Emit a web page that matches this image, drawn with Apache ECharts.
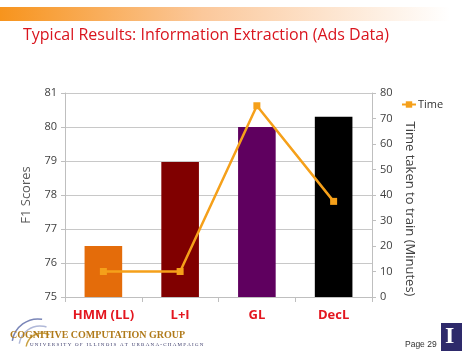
<!DOCTYPE html>
<html><head><meta charset="utf-8">
<script src="https://cdn.jsdelivr.net/npm/echarts@6/dist/echarts.min.js"></script>
<style>html,body{margin:0;padding:0;background:#fff}#c{width:474px;height:355px}</style>
</head><body><div id="c"></div>
<script>
const categories = ["HMM (LL)", "L+I", "GL", "DecL"];
const f1Scores = [76.5, 78.97, 80.0, 80.3];
const trainTime = [10, 10, 75, 37.5];
const barColors = ["#E46C0A", "#800000", "#5F005F", "#000000"];
const leftTicks = {min: 75, max: 81, interval: 1};
const rightTicks = {min: 0, max: 80, interval: 10};

const chart = echarts.init(document.getElementById('c'), null, {renderer: 'canvas'});
chart.setOption({
  animation: false,
  backgroundColor: '#fff',
  textStyle: {fontFamily: 'Open Sans'},
  graphic: [
    {type: 'rect', shape: {x: 0, y: 7, width: 450, height: 14}, silent: true,
     style: {fill: new echarts.graphic.LinearGradient(0, 0, 1, 0, [
       {offset: 0, color: '#F7941D'}, {offset: 0.45, color: '#FBC89B'}, {offset: 1, color: 'rgba(255,255,255,1)'}])}},
    {type: 'text', left: 23, top: 27, style: {text: 'Typical Results: Information Extraction (Ads Data)', fill: '#D9151E', font: '16px "Open Sans"'}},
    {type: 'arc', shape: {cx: 38, cy: 345, r: 26, startAngle: Math.PI * 1.05, endAngle: Math.PI * 1.55}, style: {stroke: '#7A86B8', lineWidth: 1.5, fill: null}},
    {type: 'arc', shape: {cx: 40, cy: 347, r: 21, startAngle: Math.PI * 1.05, endAngle: Math.PI * 1.6}, style: {stroke: '#B0B8D8', lineWidth: 1.5, fill: null}},
    {type: 'arc', shape: {cx: 42, cy: 349, r: 16, startAngle: Math.PI * 1.05, endAngle: Math.PI * 1.65}, style: {stroke: '#C9A040', lineWidth: 1.5, fill: null}},
    {type: 'text', left: 10, top: 330, style: {text: 'COGNITIVE COMPUTATION GROUP', fill: '#B07A1A', font: 'bold 10px "Liberation Serif"'}},
    {type: 'text', left: 30, top: 342, style: {text: 'U N I V E R S I T Y   O F   I L L I N O I S   A T   U R B A N A - C H A M P A I G N', fill: '#3A3A6A', font: '5px "Liberation Serif"'}},
    {type: 'text', left: 405, top: 340, style: {text: 'Page 29', fill: '#333', font: '8.5px "Liberation Sans"'}},
    {type: 'rect', shape: {x: 441, y: 323, width: 21, height: 28}, style: {fill: '#2E2A6B'}},
    {type: 'text', left: 445, top: 325, style: {text: 'I', fill: '#fff', font: 'bold 24px "Liberation Serif"'}}
  ],
  legend: {
    data: [{name: 'Time'}], left: 396, top: 94, itemWidth: 14, itemHeight: 8, itemGap: 2,
    textStyle: {fontSize: 11, color: '#333', padding: [0, 0, 0, -3]}
  },
  grid: {left: 65, right: 102, top: 93, bottom: 58},
  xAxis: {
    type: 'category', data: categories,
    axisLine: {lineStyle: {color: '#BFBFBF'}},
    axisTick: {show: true, alignWithLabel: false, length: 5, lineStyle: {color: '#BFBFBF'}},
    axisLabel: {interval: 0, color: '#E3161F', fontWeight: 'bold', fontSize: 13, margin: 12, fontFamily: 'Open Sans'}
  },
  yAxis: [
    {type: 'value', min: leftTicks.min, max: leftTicks.max, interval: leftTicks.interval,
     name: 'F1 Scores', nameLocation: 'middle', nameGap: 32, nameRotate: 90,
     nameTextStyle: {fontSize: 13, color: '#595959'},
     axisLine: {show: true, lineStyle: {color: '#BFBFBF'}},
     axisTick: {show: true, length: 4, lineStyle: {color: '#BFBFBF'}},
     axisLabel: {color: '#404040', fontSize: 11, margin: 8},
     splitLine: {lineStyle: {color: '#C8C8C8'}}},
    {type: 'value', min: rightTicks.min, max: rightTicks.max, interval: rightTicks.interval, position: 'right',
     name: 'Time taken to train (Minutes)', nameLocation: 'middle', nameGap: 24, nameRotate: -90,
     nameTextStyle: {fontSize: 13, color: '#404040', padding: [0, 0, 0, 28]},
     axisLine: {show: true, lineStyle: {color: '#BFBFBF'}},
     axisTick: {show: true, length: 4, lineStyle: {color: '#BFBFBF'}},
     axisLabel: {color: '#404040', fontSize: 11, margin: 8},
     splitLine: {show: false}}
  ],
  series: [
    {name: 'F1', type: 'bar', yAxisIndex: 0, barWidth: '49%',
     data: f1Scores.map((v, i) => ({value: v, itemStyle: {color: barColors[i]}}))},
    {name: 'Time', type: 'line', yAxisIndex: 1, data: trainTime,
     symbol: 'rect', symbolSize: 7, itemStyle: {color: '#F5A01A'},
     lineStyle: {color: '#F5A01A', width: 2.5}}
  ]
});
</script></body></html>
